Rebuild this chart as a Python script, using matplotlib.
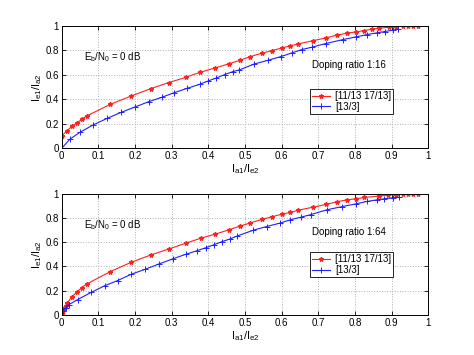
import matplotlib
matplotlib.use('Agg')
import matplotlib.pyplot as plt

# --- data ---
# doping ratio 1:16
red16_x = [0, 0.015, 0.028, 0.043, 0.056, 0.07, 0.133, 0.19, 0.243, 0.292, 0.338, 0.377,
           0.419, 0.455, 0.487, 0.514, 0.545, 0.573, 0.6, 0.623, 0.645, 0.686, 0.72, 0.75,
           0.777, 0.802, 0.825, 0.845, 0.864, 0.891, 0.912, 0.93, 0.945, 0.959, 0.972]
red16_y = [0.10, 0.145, 0.18, 0.21, 0.24, 0.267, 0.36, 0.428, 0.488, 0.537, 0.58, 0.621,
           0.657, 0.69, 0.72, 0.749, 0.777, 0.798, 0.82, 0.837, 0.853, 0.88, 0.902, 0.924,
           0.94, 0.951, 0.962, 0.973, 0.981, 0.989, 0.995, 0.997, 1.0, 1.0, 1.0]
blue16_x = [0, 0.022, 0.049, 0.085, 0.124, 0.162, 0.2, 0.237, 0.273, 0.307, 0.342, 0.376,
            0.399, 0.422, 0.444, 0.467, 0.484, 0.525, 0.562, 0.597, 0.627, 0.655, 0.682,
            0.72, 0.766, 0.802, 0.832, 0.859, 0.881, 0.902, 0.918]
blue16_y = [0, 0.074, 0.13, 0.19, 0.245, 0.294, 0.338, 0.381, 0.417, 0.455, 0.49, 0.523,
            0.55, 0.575, 0.602, 0.627, 0.64, 0.689, 0.719, 0.749, 0.779, 0.807, 0.826,
            0.856, 0.888, 0.91, 0.929, 0.943, 0.954, 0.965, 0.973]

# doping ratio 1:64
red64_x = [0, 0.004, 0.007, 0.011, 0.015, 0.028, 0.042, 0.055, 0.069, 0.133, 0.19, 0.244,
           0.293, 0.338, 0.379, 0.419, 0.455, 0.487, 0.514, 0.545, 0.573, 0.6, 0.623, 0.645,
           0.686, 0.72, 0.75, 0.777, 0.802, 0.825, 0.864, 0.889, 0.912, 0.93, 0.945, 0.959, 0.972]
red64_y = [0, 0.03, 0.055, 0.077, 0.096, 0.15, 0.19, 0.226, 0.256, 0.358, 0.435, 0.496,
           0.545, 0.592, 0.633, 0.667, 0.702, 0.734, 0.76, 0.788, 0.81, 0.832, 0.846, 0.865,
           0.89, 0.912, 0.934, 0.95, 0.959, 0.97, 0.981, 0.989, 0.994, 0.997, 1.0, 1.0, 1.0]
blue64_x = [0, 0.005, 0.012, 0.02, 0.044, 0.08, 0.117, 0.153, 0.19, 0.228, 0.265, 0.303,
            0.338, 0.369, 0.394, 0.415, 0.438, 0.46, 0.479, 0.523, 0.559, 0.594, 0.623,
            0.652, 0.68, 0.723, 0.765, 0.802, 0.832, 0.859, 0.88, 0.902, 0.92]
blue64_y = [0, 0.03, 0.06, 0.085, 0.127, 0.185, 0.24, 0.284, 0.336, 0.377, 0.42, 0.463,
            0.5, 0.53, 0.556, 0.579, 0.606, 0.628, 0.652, 0.7, 0.73, 0.757, 0.785,
            0.807, 0.829, 0.868, 0.895, 0.917, 0.937, 0.95, 0.959, 0.967, 0.972]

series_labels = ['[11/13 17/13]', '[13/3]']
ratio_labels = ['Doping ratio 1:16', 'Doping ratio 1:64']
ticks = [0, 0.1, 0.2, 0.3, 0.4, 0.5, 0.6, 0.7, 0.8, 0.9, 1]
tick_labels = ['0', '0.1', '0.2', '0.3', '0.4', '0.5', '0.6', '0.7', '0.8', '0.9', '1']
yticks = [0, 0.2, 0.4, 0.6, 0.8, 1]
ytick_labels = ['0', '0.2', '0.4', '0.6', '0.8', '1']

plt.rcParams['font.family'] = ['Liberation Sans', 'DejaVu Sans']
plt.rcParams['font.size'] = 7
plt.rcParams['mathtext.default'] = 'regular'

fig = plt.figure(figsize=(4.74, 3.55), dpi=100)
ax1 = fig.add_axes([0.130, 0.582, 0.774, 0.345])
ax2 = fig.add_axes([0.130, 0.113, 0.774, 0.341])

panels = [
    (ax1, red16_x, red16_y, blue16_x, blue16_y, ratio_labels[0], (0.677, 0.28)),
    (ax2, red64_x, red64_y, blue64_x, blue64_y, ratio_labels[1], (0.677, 0.31)),
]

for ax, rx, ry, bx, by, ratio, leg_pos in panels:
    ax.plot(rx, ry, color='#ff2020', marker='*', markersize=3.2, linewidth=0.8,
            label=series_labels[0])
    ax.plot(bx, by, color='#2020ff', marker='+', markersize=4.5, markeredgewidth=0.7,
            linewidth=0.8, label=series_labels[1])
    ax.set_xlim(0, 1)
    ax.set_ylim(0, 1)
    ax.set_xticks(ticks)
    ax.set_xticklabels(tick_labels)
    ax.set_yticks(yticks)
    ax.set_yticklabels(ytick_labels)
    ax.grid(True, linestyle=':', color='#b0b0b0', linewidth=0.7)
    ax.tick_params(direction='in', top=True, right=True, length=3, width=0.6, pad=2)
    for s in ax.spines.values():
        s.set_linewidth(0.7)
    ax.set_xlabel('I$_{a1}$/I$_{e2}$', fontsize=8, labelpad=1)
    ax.set_ylabel('I$_{e1}$/I$_{a2}$', fontsize=8, labelpad=1)
    ax.text(0.06, 0.72, 'E$_b$/N$_0$ = 0 dB', transform=ax.transAxes)
    ax.text(0.682, 0.66, ratio, transform=ax.transAxes)
    leg = ax.legend(loc='lower left', bbox_to_anchor=leg_pos, fancybox=False,
                    edgecolor='black', framealpha=1, handlelength=1.8,
                    borderpad=0.25, labelspacing=0.05, handletextpad=0.5,
                    borderaxespad=0)
    leg.get_frame().set_linewidth(0.6)

fig.savefig('out.png', dpi=100)
